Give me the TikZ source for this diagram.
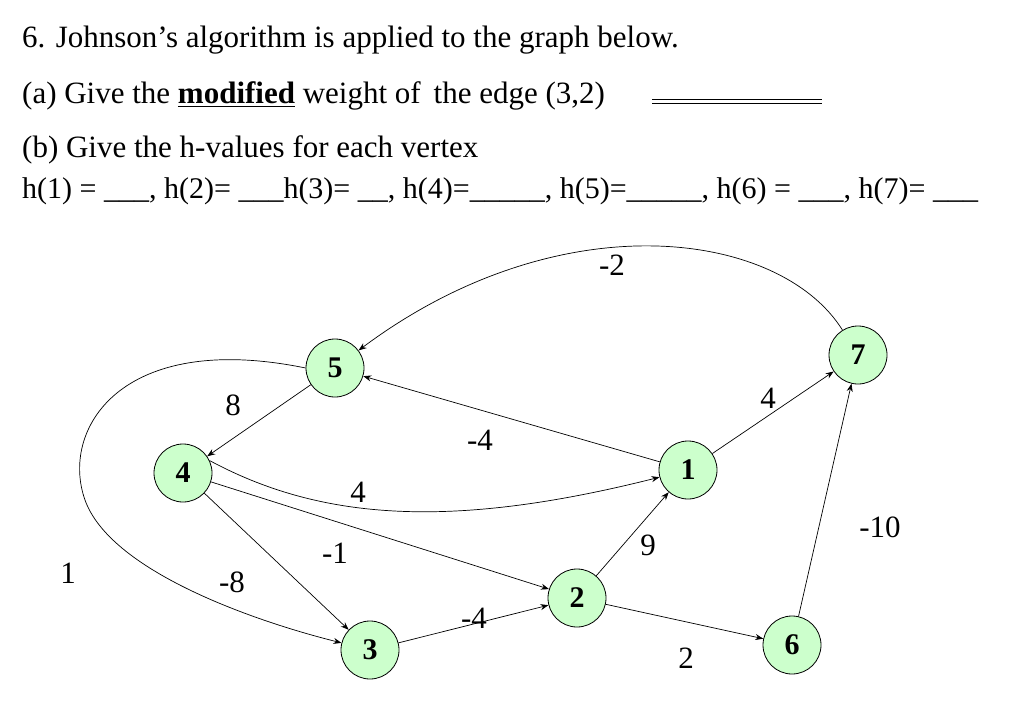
\documentclass[tikz,border=0pt]{standalone}
\usepackage{fontspec}
\setmainfont{Liberation Serif}
\usetikzlibrary{arrows.meta}
\begin{document}
\begin{tikzpicture}[x=1pt,y=-1pt,
 v/.style={circle,draw,line width=0.8pt,fill={rgb,255:red,204;green,255;blue,204},minimum size=58pt,inner sep=0pt,font=\fontsize{30}{34}\selectfont\bfseries},
 e/.style={line width=0.7pt,-{Stealth[length=8pt,width=6pt]}},
 w/.style={font=\fontsize{31}{34}\selectfont,inner sep=0pt},
 t/.style={font=\fontsize{31}{34}\selectfont,inner sep=0pt,anchor=base west}]
\useasboundingbox (0,0) rectangle (1024,714);
\node[t] (l1) at (22,48) {6. Johnson’s algorithm is applied to the graph below.};
\node[t] (l2) at (22,104) {(a) Give the \textbf{\underline{modified}} weight of \,the edge (3,2)};
\draw[line width=0.8pt] (652,99) -- (822,99) (652,103) -- (822,103);
\node[t] (l3) at (22,158) {(b) Give the h-values for each vertex};
\node[t,font=\fontsize{30}{34}\selectfont] (l4) at (22,198) {h(1) = \_\_\_, h(2)= \_\_\_h(3)= \_\_, h(4)=\_\_\_\_\_, h(5)=\_\_\_\_\_, h(6) = \_\_\_, h(7)= \_\_\_};
\node[v] (n5) at (335,368) {5};
\node[v] (n7) at (858,355) {7};
\node[v] (n4) at (183,473) {4};
\node[v] (n1) at (688,470) {1};
\node[v] (n2) at (577,598) {2};
\node[v] (n3) at (370,650) {3};
\node[v] (n6) at (792,645) {6};
\draw[e] (n7) .. controls (780,230) and (560,200) .. (n5);
\draw[e] (n5) -- (n4);
\draw[e] (n1) -- (n5);
\draw[e] (n4.25) .. controls (320,520) and (450,530) .. (n1);
\draw[e] (n4) -- (n2);
\draw[e] (n4) -- (n3);
\draw[e] (n5.west) .. controls (120,330) and (60,430) .. (85,500) .. controls (110,570) and (250,620) .. (n3);
\draw[e] (n3) -- (n2);
\draw[e] (n2) -- (n1);
\draw[e] (n2) -- (n6);
\draw[e] (n1) -- (n7);
\draw[e] (n6) -- (n7);
\node[w] (a) at (612,265) {-2};
\node[w] (b) at (233,405) {8};
\node[w] (c) at (480,440) {-4};
\node[w] (d) at (358,492) {4};
\node[w] (f) at (335,553) {-1};
\node[w] (g) at (232,582) {-8};
\node[w] (h) at (68,573) {1};
\node[w] (i) at (474,618) {-4};
\node[w] (j) at (648,545) {9};
\node[w] (k) at (686,658) {2};
\node[w] (m) at (768,398) {4};
\node[w] (o) at (880,527) {-10};
\end{tikzpicture}
\end{document}
